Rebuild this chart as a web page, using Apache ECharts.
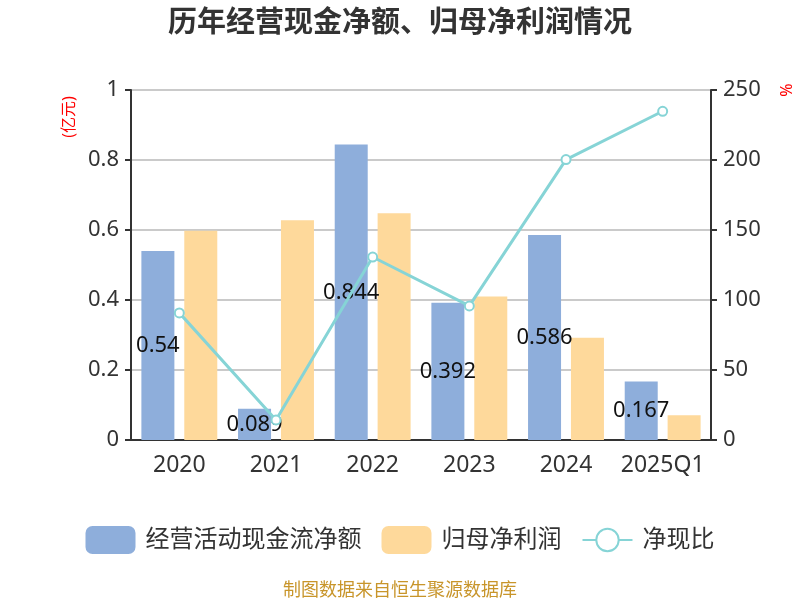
<!DOCTYPE html>
<html>
<head>
<meta charset="utf-8">
<script src="https://cdn.jsdelivr.net/npm/echarts@6/dist/echarts.min.js"></script>
<style>
  html, body { margin: 0; padding: 0; background: #fff; }
  #chart { width: 800px; height: 600px; }
</style>
</head>
<body>
<div id="chart"></div>
<script>
const years = ['2020', '2021', '2022', '2023', '2024', '2025Q1']
const cashFlow = [0.54, 0.089, 0.844, 0.392, 0.586, 0.167]
const netProfit = [0.598, 0.628, 0.648, 0.41, 0.292, 0.071]
const cashRatio = [90.8, 14.3, 130.7, 95.8, 200.3, 234.8]

const FONT = '"Noto Sans", "Noto Sans CJK SC", sans-serif'

const chart = echarts.init(document.getElementById('chart'))

chart.setOption({
  backgroundColor: '#fff',
  textStyle: { fontFamily: FONT },
  title: [
    {
      text: '历年经营现金净额、归母净利润情况',
      left: 'center',
      top: 4,
      textStyle: { fontSize: 29, fontWeight: 'bold', color: '#333', fontFamily: FONT }
    },
    {
      text: '制图数据来自恒生聚源数据库',
      left: 'center',
      top: 577,
      textStyle: { fontSize: 18, fontWeight: 'normal', color: '#c8952a', fontFamily: FONT }
    }
  ],
  legend: {
    top: 521,
    left: 'center',
    itemWidth: 50,
    itemHeight: 28,
    itemGap: 20,
    textStyle: { fontSize: 24, color: '#333', fontFamily: FONT, padding: [0, 0, 0, 5] },
    data: [
      { name: '经营活动现金流净额', icon: 'roundRect' },
      { name: '归母净利润', icon: 'roundRect' },
      { name: '净现比' }
    ]
  },
  grid: { left: 131, right: 89, top: 90, bottom: 160 },
  xAxis: {
    type: 'category',
    data: years,
    axisLine: { lineStyle: { color: '#333', width: 2 } },
    axisTick: { length: 6, lineStyle: { color: '#333', width: 2 } },
    axisLabel: { fontSize: 23, color: '#333', margin: 14, interval: 0 }
  },
  yAxis: [
    {
      type: 'value',
      min: 0, max: 1, interval: 0.2,
      axisLine: { show: true, lineStyle: { color: '#333', width: 2 } },
      axisTick: { show: true, length: 6, lineStyle: { color: '#333', width: 2 } },
      axisLabel: { fontSize: 22, color: '#333', margin: 12 },
      splitLine: { lineStyle: { color: '#cacaca', width: 2 } }
    },
    {
      type: 'value',
      min: 0, max: 250, interval: 50,
      position: 'right',
      axisLine: { show: true, lineStyle: { color: '#333', width: 2 } },
      axisTick: { show: true, length: 6, lineStyle: { color: '#333', width: 2 } },
      axisLabel: { fontSize: 22, color: '#333', margin: 12 },
      splitLine: { show: false }
    }
  ],
  graphic: [
    {
      type: 'text',
      x: 69, y: 117,
      rotation: Math.PI / 2,
      style: { text: '(亿元)', fill: '#ff0000', fontSize: 16, fontFamily: FONT, align: 'center', verticalAlign: 'middle' }
    },
    {
      type: 'text',
      x: 787, y: 90,
      rotation: Math.PI / 2,
      style: { text: '%', fill: '#ff0000', fontSize: 16, fontFamily: FONT, align: 'center', verticalAlign: 'middle' }
    }
  ],
  series: [
    {
      name: '经营活动现金流净额',
      type: 'bar',
      data: cashFlow,
      barWidth: 33,
      barGap: '30%',
      itemStyle: { color: '#8eaedb' },
      label: { show: true, position: 'inside', color: '#111', fontSize: 22, fontFamily: FONT },
      z: 2
    },
    {
      name: '归母净利润',
      type: 'bar',
      data: netProfit,
      barWidth: 33,
      itemStyle: { color: '#fed99b' },
      z: 2
    },
    {
      name: '净现比',
      type: 'line',
      yAxisIndex: 1,
      data: cashRatio,
      symbol: 'emptyCircle',
      symbolSize: 9,
      lineStyle: { color: '#86d4d6', width: 3 },
      itemStyle: { color: '#86d4d6', borderWidth: 2 },
      z: 5
    }
  ]
})
</script>
</body>
</html>
